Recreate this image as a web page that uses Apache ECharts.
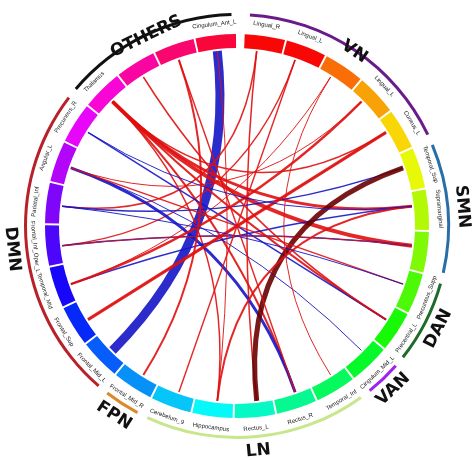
<!DOCTYPE html>
<html>
<head>
<meta charset="utf-8">
<script src="https://cdn.jsdelivr.net/npm/echarts@6/dist/echarts.min.js"></script>
<style>html,body{margin:0;padding:0;background:#fff}#chart{width:474px;height:460px}</style>
</head>
<body>
<div id="chart"></div>
<script>
// 脑区节点（顺时针，从顶部开始）
let regions = ['Lingual_R', 'Lingual_L', 'Occipital_Mid_L', 'Lingual_L ', 'Cuneus_L',
  'Temporal_Sup', 'Supramarginal', 'Supp_Motor_Area',
  'Precuneus_Supp', 'Precentral_L',
  'Cingulum_Mid_L',
  'Temporal_Inf', 'Rectus_R', 'Rectus_L', 'Hippocampus', 'Cerebelum_9',
  'Frontal_Mid_R',
  'Frontal_Mid_L', 'Frontal_Sup', 'Temporal_Mid', 'Frontal_Inf_Oper_L', 'Parietal_Inf', 'Angular_L', 'Precuneus_R',
  'Thalamus', 'Precuneus_L', 'Parahippocampal', 'Cingulum_Ant_L']
let networks = ['VN', 'SMN', 'DAN', 'VAN', 'LN', 'FPN', 'DMN', 'OTHERS']
let networkSizes = [5, 3, 2, 1, 5, 1, 7, 4]
let networkColors = ['#6a1b8a', '#2a6ea8', '#1e6b2a', '#a020f0', '#c8e68c', '#d98a2a', '#b8202a', '#111']
// 连接：[源, 目标, 权重, 类型]
let links = [
  [27, 17, 9, 'neg'], [24, 7, 4, 'pos'], [24, 6, 3, 'pos'], [24, 9, 2, 'pos'], [24, 12, 2, 'pos'],
  [24, 4, 1.5, 'pos'], [24, 14, 1.5, 'pos'], [0, 21, 1.5, 'pos'], [0, 13, 1.5, 'pos'], [1, 20, 1.5, 'pos'],
  [2, 19, 1, 'pos'], [3, 22, 1, 'pos'], [4, 18, 1, 'pos'], [19, 6, 1.5, 'neg'], [20, 7, 1.5, 'neg'],
  [21, 5, 1.5, 'neg'], [22, 12, 3, 'neg'], [23, 9, 1.5, 'neg'], [22, 10, 1, 'neg'], [18, 4, 3, 'pos'],
  [19, 3, 2.5, 'pos'], [5, 13, 5, 'deep'], [6, 14, 2, 'pos'], [8, 22, 1.5, 'pos'], [9, 25, 1.5, 'pos'],
  [26, 12, 1.5, 'pos'], [27, 14, 1, 'pos'], [21, 8, 1, 'neg'], [7, 20, 1, 'pos'], [1, 15, 1.5, 'pos'],
  [23, 6, 1, 'neg'], [2, 11, 1, 'pos'], [16, 26, 2, 'pos']
]
let linkColors = { pos: '#e01010', neg: '#1515c8', deep: '#6a0000' }

let n = regions.length
let cx = 237
let cy = 226
let R = 176
let chart = echarts.init(document.getElementById('chart'))

let nodes = regions.map(function (name, i) {
  let a = (90 - (i + 0.5) * 360 / n) * Math.PI / 180
  return { id: String(i), name: name, x: Math.cos(a), y: -Math.sin(a), symbolSize: 0 }
})
// 固定视图边界
;[[1, 0], [-1, 0], [0, 1], [0, -1]].forEach(function (p, k) {
  nodes.push({ id: 'a' + k, name: '', x: p[0], y: p[1], symbolSize: 0 })
})
let edges = links.map(function (l) {
  let p1 = nodes[l[0]]
  let p2 = nodes[l[1]]
  let mx = (p1.x + p2.x) / 2
  let my = (p1.y + p2.y) / 2
  let px = p2.y - p1.y
  let py = p1.x - p2.x
  let c = (-mx * px - my * py) / (px * px + py * py)
  return {
    source: String(l[0]),
    target: String(l[1]),
    lineStyle: { width: l[2], color: linkColors[l[3]], curveness: c, opacity: 0.9 }
  }
})

let ringData = regions.map(function (name, i) {
  let hue = i * 360 / n
  if (i < 2) hue = 0
  return { name: name, value: 1, itemStyle: { color: 'hsl(' + hue + ',95%,50%)' } }
})
let groupData = networks.map(function (name, i) {
  return { name: name, value: networkSizes[i], itemStyle: { color: networkColors[i] } }
})
let topGroups = ['VN', 'OTHERS']
let groupLabel = { position: 'inside', rotate: 'tangential', fontSize: 17, fontWeight: 'bold', color: '#111', fontFamily: 'DejaVu Sans' }

chart.setOption({
  animation: false,
  series: [{
    type: 'pie',
    center: [cx, cy],
    radius: [178, 192],
    startAngle: 88,
    endAngle: -270,
    padAngle: 0.6,
    silent: true,
    data: ringData,
    label: { show: false }
  }, {
    type: 'pie',
    center: [cx, cy],
    radius: [194, 206],
    startAngle: 88,
    endAngle: -270,
    silent: true,
    data: ringData.map(function (d) {
      return { name: d.name, value: 1, itemStyle: { color: 'transparent' } }
    }),
    label: { position: 'inside', rotate: 'tangential', fontSize: 6, color: '#222' }
  }, {
    type: 'pie',
    center: [cx, cy],
    radius: [210, 213],
    startAngle: 88,
    endAngle: -270,
    padAngle: 3,
    silent: true,
    data: groupData,
    label: { show: false }
  }, {
    type: 'pie',
    center: [cx, cy],
    radius: [200, 214],
    startAngle: 88,
    endAngle: -270,
    padAngle: 3,
    silent: true,
    data: groupData.map(function (d) {
      return { name: d.name, value: d.value, itemStyle: { color: 'transparent' }, label: { show: topGroups.indexOf(d.name) >= 0 } }
    }),
    label: groupLabel
  }, {
    type: 'pie',
    center: [cx, cy],
    radius: [212, 234],
    startAngle: 88,
    endAngle: -270,
    padAngle: 3,
    silent: true,
    data: groupData.map(function (d) {
      return { name: d.name, value: d.value, itemStyle: { color: 'transparent' }, label: { show: topGroups.indexOf(d.name) < 0 } }
    }),
    label: groupLabel
  }, {
    type: 'graph',
    layout: 'none',
    left: cx - R,
    top: cy - R,
    width: R * 2,
    height: R * 2,
    roam: false,
    silent: true,
    z: 5,
    data: nodes,
    links: edges,
    label: { show: false }
  }]
})
</script>
</body>
</html>
